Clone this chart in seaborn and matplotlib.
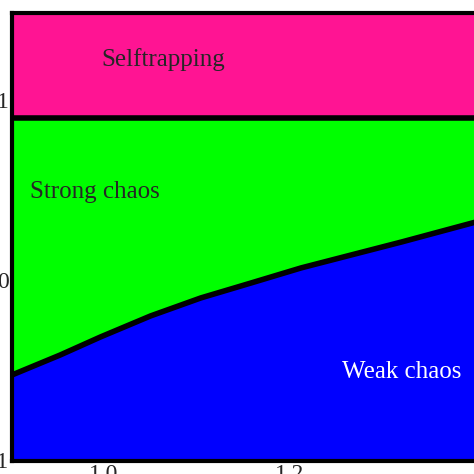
import matplotlib
matplotlib.use("Agg")
import matplotlib.pyplot as plt
import seaborn as sns
import numpy as np

boundary_x = [0.9016, 0.9535, 0.9968, 1.0508, 1.1049, 1.1589, 1.2130, 1.2670, 1.3211, 1.4011]
boundary_y = [-0.528, -0.417, -0.317, -0.200, -0.100, -0.017, 0.067, 0.139, 0.211, 0.322]
selftrap_level = 0.9
y_lo, y_hi = -1.006, 1.483
x_ticks = [1.0, 1.2]
x_ticklabels = ["1.0", "1.2"]
y_ticks = [-1, 0, 1]
y_ticklabels = ["\u22121", "0", "1"]

sns.set_style("white")
plt.rcParams['font.family'] = ['Liberation Serif', 'DejaVu Serif']
fig = plt.figure(figsize=(4.74, 4.74), dpi=100)
ax = fig.add_axes([12/474, 13/474, 464/474, 448/474])
bx = np.array(boundary_x); by = np.array(boundary_y)
ax.fill_between(bx, y_lo, by, color="#0000ff", lw=0)
ax.fill_between(bx, by, selftrap_level, color="#00ff00", lw=0)
ax.fill_between(bx, selftrap_level, y_hi, color="#ff1493", lw=0)
sns.lineplot(x=bx, y=by, color="black", lw=4, ax=ax)
ax.axhline(selftrap_level, color="black", lw=4)
ax.set_xlim(bx[0], bx[-1]); ax.set_ylim(y_lo, y_hi)
ax.set_xticks(x_ticks); ax.set_xticklabels(x_ticklabels, fontsize=17)
ax.set_yticks(y_ticks); ax.set_yticklabels(y_ticklabels, fontsize=17)
ax.tick_params(direction="in", length=7, width=1.5, pad=2)
for s in ax.spines.values():
    s.set_linewidth(3); s.set_color("black")
ax.text(1.064, 1.222, "Selftrapping", fontsize=18, ha="center", va="center")
ax.text(0.991, 0.489, "Strong chaos", fontsize=18, ha="center", va="center")
ax.text(1.321, -0.511, "Weak chaos", fontsize=18, ha="center", va="center", color="white")
fig.savefig("out.png", dpi=100)
